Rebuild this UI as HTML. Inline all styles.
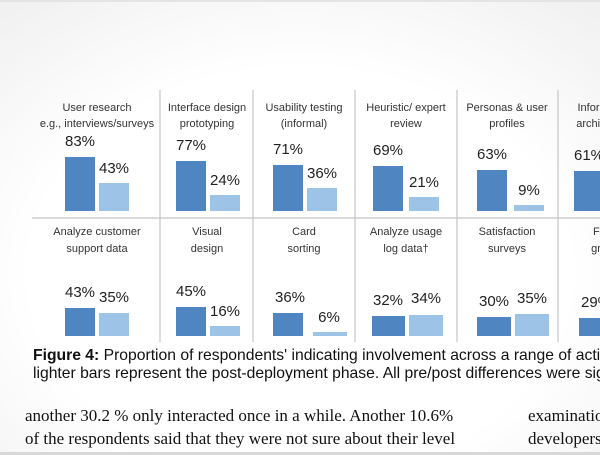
<!DOCTYPE html>
<html><head><meta charset="utf-8"><style>
html,body{margin:0;padding:0;background:#fff;}
svg{display:block;}
</style></head><body>
<svg width="600" height="455" viewBox="0 0 600 455" xmlns="http://www.w3.org/2000/svg">
<defs>
<radialGradient id="bg" cx="50%" cy="60%" r="75%">
<stop offset="60%" stop-color="#ffffff"/><stop offset="100%" stop-color="#f1f1f1"/>
</radialGradient>
</defs>
<rect width="600" height="455" fill="url(#bg)"/>
<rect x="0" y="0" width="600" height="2" fill="#e4e4e4"/>
<rect x="0" y="452" width="600" height="3" fill="#d8d8d8"/>
<g stroke="#c4c4c4" stroke-width="1.2">
<line x1="32" y1="218" x2="600" y2="218"/>
<line x1="160" y1="90" x2="160" y2="342"/>
<line x1="253" y1="90" x2="253" y2="342"/>
<line x1="355" y1="90" x2="355" y2="342"/>
<line x1="457" y1="90" x2="457" y2="342"/>
<line x1="558" y1="90" x2="558" y2="342"/>
</g>
<g font-family="'Liberation Sans',sans-serif" font-size="11" fill="#333" text-anchor="middle">
<text x="97" y="111">User research</text><text x="97" y="127">e.g., interviews/surveys</text>
<text x="207" y="111">Interface design</text><text x="207" y="127">prototyping</text>
<text x="304" y="111">Usability testing</text><text x="304" y="127">(informal)</text>
<text x="406" y="111">Heuristic/ expert</text><text x="406" y="127">review</text>
<text x="507" y="111">Personas &amp; user</text><text x="507" y="127">profiles</text>
<text x="605" y="111">Information</text><text x="605" y="127">architecture</text>
<text x="97" y="235">Analyze customer</text><text x="97" y="252">support data</text>
<text x="207" y="235">Visual</text><text x="207" y="252">design</text>
<text x="304" y="235">Card</text><text x="304" y="252">sorting</text>
<text x="406" y="235">Analyze usage</text><text x="406" y="252">log data†</text>
<text x="507" y="235">Satisfaction</text><text x="507" y="252">surveys</text>
<text x="608" y="235">Focus</text><text x="608" y="252">groups</text>
</g>
<g font-family="'Liberation Sans',sans-serif" font-size="15" fill="#222" text-anchor="middle">
<rect x="65" y="157" width="30" height="54" fill="#4f86c1"/><rect x="99" y="183" width="30" height="28" fill="#9dc3e6"/>
<text x="80" y="146">83%</text><text x="114" y="173">43%</text>
<rect x="176" y="161" width="30" height="50" fill="#4f86c1"/><rect x="210" y="195" width="30" height="16" fill="#9dc3e6"/>
<text x="191" y="150">77%</text><text x="225" y="185">24%</text>
<rect x="273" y="165" width="30" height="46" fill="#4f86c1"/><rect x="307" y="188" width="30" height="23" fill="#9dc3e6"/>
<text x="288" y="154">71%</text><text x="322" y="178">36%</text>
<rect x="373" y="166" width="30" height="45" fill="#4f86c1"/><rect x="409" y="197" width="30" height="14" fill="#9dc3e6"/>
<text x="388" y="155">69%</text><text x="424" y="187">21%</text>
<rect x="477" y="170" width="30" height="41" fill="#4f86c1"/><rect x="514" y="205" width="30" height="6" fill="#9dc3e6"/>
<text x="492" y="159">63%</text><text x="529" y="195">9%</text>
<rect x="574" y="171" width="30" height="40" fill="#4f86c1"/>
<text x="589" y="160">61%</text>
<rect x="65" y="308" width="30" height="28" fill="#4f86c1"/><rect x="99" y="313" width="30" height="23" fill="#9dc3e6"/>
<text x="80" y="297">43%</text><text x="114" y="302">35%</text>
<rect x="176" y="307" width="30" height="29" fill="#4f86c1"/><rect x="210" y="326" width="30" height="10" fill="#9dc3e6"/>
<text x="191" y="296">45%</text><text x="225" y="316">16%</text>
<rect x="273" y="313" width="30" height="23" fill="#4f86c1"/><rect x="313" y="332" width="34" height="4" fill="#9dc3e6"/>
<text x="290" y="302">36%</text><text x="329" y="322">6%</text>
<rect x="372" y="316" width="33" height="20" fill="#4f86c1"/><rect x="409" y="315" width="34" height="21" fill="#9dc3e6"/>
<text x="388" y="305">32%</text><text x="426" y="303">34%</text>
<rect x="477" y="317" width="34" height="19" fill="#4f86c1"/><rect x="515" y="314" width="34" height="22" fill="#9dc3e6"/>
<text x="494" y="306">30%</text><text x="532" y="303">35%</text>
<rect x="579" y="318" width="34" height="18" fill="#4f86c1"/>
<text x="596" y="307">29%</text>
</g>
<g font-family="'Liberation Sans',sans-serif" font-size="15.7" fill="#111">
<text x="33" y="360"><tspan font-weight="bold">Figure 4:</tspan> Proportion of respondents' indicating involvement across a range of activities</text>
<text x="33" y="378">lighter bars represent the post-deployment phase. All pre/post differences were significant</text>
</g>
<g font-family="'Liberation Serif',serif" font-size="17" fill="#111">
<text x="25" y="421">another 30.2 % only interacted once in a while. Another 10.6%</text>
<text x="25" y="444">of the respondents said that they were not sure about their level</text>
<text x="528" y="421">examination</text>
<text x="528" y="444">developers</text>
</g>
</svg>
</body></html>
